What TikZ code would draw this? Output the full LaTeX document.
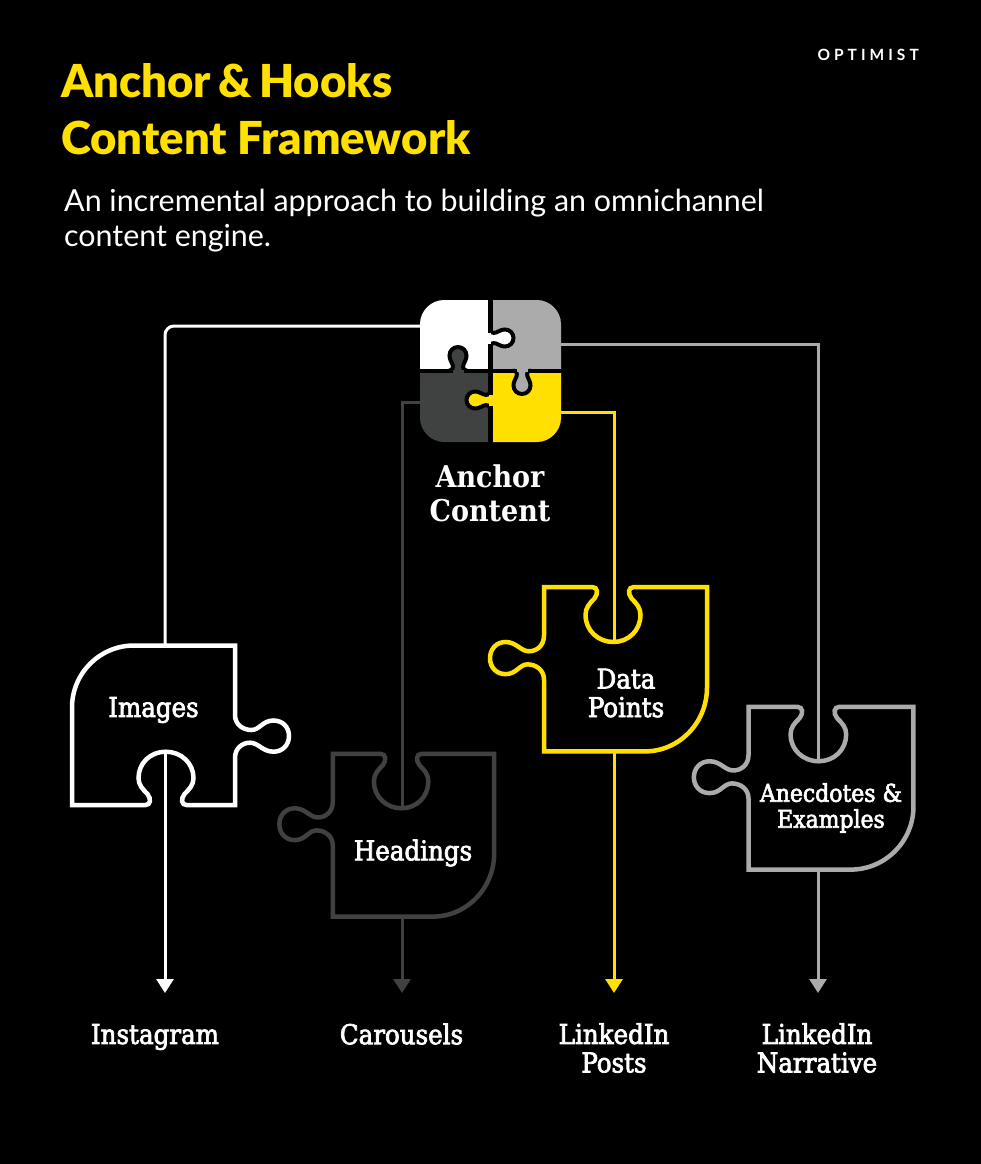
\documentclass[tikz,border=0pt]{standalone}
\usepackage{fontspec}
\setmainfont{Lato}
\newfontfamily\blk{Lato Black}
\newfontfamily\lab[FakeBold=2.6]{DejaVu Serif Condensed}
\newfontfamily\labb{DejaVu Serif Condensed}
\newfontfamily\logof[LetterSpace=26]{Lato}
\definecolor{ayel}{HTML}{FFE000}
\definecolor{agry}{HTML}{ABABAB}
\definecolor{adrk}{HTML}{3F4240}
\newcommand{\piecepath}{(-81.5,-17.5) .. controls (-81.5,-51.7) and (-53.7,-79.5) .. (-19.5,-79.5) -- (81.5,-79.5) -- (81.5,-10)
 .. controls (81.5,0) and (90,5) .. (98,5) .. controls (106,5) and (109,-4.5) .. (120,-4.5)
 .. controls (129,-4.5) and (135.5,2) .. (135.5,11) .. controls (135.5,20) and (129,26.7) .. (120,26.7)
 .. controls (109,26.7) and (105,17.7) .. (96.5,17.7) .. controls (89,17.7) and (81.5,23) .. (81.5,33)
 -- (81.5,80) -- (33,80) .. controls (28,80) and (27,74) .. (31,69) .. controls (36,64) and (40,60) .. (40,53)
 .. controls (40,38) and (27.5,26.7) .. (12.2,26.7) .. controls (-3,26.7) and (-15,38) .. (-15,53)
 .. controls (-15,60) and (-11,64) .. (-6,69) .. controls (-2,74) and (-3,80) .. (-8,80) -- (-81.5,80) -- cycle}
\newcommand{\tabpath}{(0,9) .. controls (0,5.5) and (3,4.5) .. (6,5.5) .. controls (9,6.5) and (11,8.5) .. (15,8.5)
 .. controls (19.7,8.5) and (23.5,4.7) .. (23.5,0) .. controls (23.5,-4.7) and (19.7,-8.5) .. (15,-8.5)
 .. controls (11,-8.5) and (9,-6.5) .. (6,-5.5) .. controls (3,-4.5) and (0,-5.5) .. (0,-9)}
\tikzset{
 x=1pt,y=-1pt,
 piece/.style={draw=#1,line width=4.5pt,line join=miter},
 conn/.style={draw=#1,line width=3pt,rounded corners=0pt},
 arrowed/.style={draw=#1,line width=3pt,-{Triangle[length=14pt,width=17pt,fill=#1]}},
 piecelab/.style={text=white,font=\lab\fontsize{27.3}{28.5}\selectfont,align=center,inner sep=0pt},
 anchorlab/.style={text=white,font=\labb\bfseries\fontsize{30}{33.5}\selectfont,align=center,inner sep=0pt},
 title/.style={text=ayel,font=\blk\fontsize{45.4}{56}\selectfont,anchor=base west,inner sep=0pt},
 sub/.style={text=white,font=\fontsize{30.4}{37}\selectfont,anchor=base west,inner sep=0pt},
}
\usetikzlibrary{arrows.meta}
\begin{document}
\begin{tikzpicture}
\useasboundingbox (0,0) rectangle (980,1164);
\fill[black] (-3,-3) rectangle (983,1167);
% text
\node[title] (t1) at (61,97) {Anchor\hspace{-3pt} \&\hspace{-3pt} Hooks};
\node[title] (t2) at (61,154) {Content Framework};
\node[sub] (s1) at (64,211) {An incremental approach to building an omnichannel};
\node[sub] (s2) at (64,246) {content engine.};
\node[text=white,font=\logof\bfseries\fontsize{15.5}{18}\selectfont,anchor=base east,inner sep=0pt] (logo) at (919,60) {OPTIMIST};
% connector coordinates
\coordinate (aW) at (421,326); \coordinate (aD) at (421,402); \coordinate (aE) at (560,344); \coordinate (aY) at (560,412);
\coordinate (pIt) at (165,645); \coordinate (pIb) at (165,752); \coordinate (eI) at (165,993);
\coordinate (pHt) at (402,806); \coordinate (pHb) at (402,917); \coordinate (eH) at (402,993);
\coordinate (pDt) at (614,640); \coordinate (pDb) at (614,752); \coordinate (eD) at (614,993);
\coordinate (pAt) at (818,760); \coordinate (pAb) at (818,870); \coordinate (eA) at (818,993);
% connectors
\draw[conn=white,rounded corners=9pt] (aW) -| (pIt);
\draw[conn=adrk] (aD) -| (pHt);
\draw[conn=ayel] (aY) -| (pDt);
\draw[conn=agry] (aE) -| (pAt);
\draw[arrowed=white] (pIb) -- (eI);
\draw[arrowed=adrk] (pHb) -- (eH);
\draw[arrowed=ayel] (pDb) -- (eD);
\draw[arrowed=agry] (pAb) -- (eA);
% pieces
\begin{scope}[shift={(153.5,725)}] \draw[piece=white] \piecepath; \end{scope}
\begin{scope}[shift={(413.5,835.5)},rotate=180,xscale=.99,yscale=1.02] \draw[piece=adrk] \piecepath; \end{scope}
\begin{scope}[shift={(625.5,669.5)},rotate=180,yscale=1.03] \draw[piece=ayel] \piecepath; \end{scope}
\begin{scope}[shift={(831,788.5)},rotate=180,xscale=1.012,yscale=1.02] \draw[piece=agry] \piecepath; \end{scope}
% anchor
\fill[white] (488,300) -- (488,370) -- (420,370) -- (420,324) .. controls (420,311) and (431,300) .. (444,300) -- cycle;
\fill[agry] (492,300) -- (492,370) -- (561,370) -- (561,324) .. controls (561,311) and (550,300) .. (537,300) -- cycle;
\fill[adrk] (488,442) -- (488,372) -- (420,372) -- (420,418) .. controls (420,431) and (431,442) .. (444,442) -- cycle;
\fill[ayel] (492,442) -- (492,372) -- (561,372) -- (561,418) .. controls (561,431) and (550,442) .. (537,442) -- cycle;
\fill[black] (488,300) rectangle (492.5,442);
\fill[black] (420,368.5) rectangle (561,372.5);
\begin{scope}[shift={(490,338)}]
 \draw[fill=white,draw=black,line width=4pt] \tabpath; \fill[white] (-3,-5.5) rectangle (1,5.5);
\end{scope}
\begin{scope}[shift={(458,370.5)},rotate=90]
 \draw[fill=adrk,draw=black,line width=4pt] \tabpath; \fill[adrk] (-3,-5.5) rectangle (1,5.5);
\end{scope}
\begin{scope}[shift={(522,370.5)},rotate=-90]
 \draw[fill=agry,draw=black,line width=4pt] \tabpath; \fill[agry] (-3,-5.5) rectangle (1,5.5);
\end{scope}
\begin{scope}[shift={(490,400)},rotate=180]
 \draw[fill=ayel,draw=black,line width=4pt] \tabpath; \fill[ayel] (-3,-5.5) rectangle (1,5.5);
\end{scope}
% labels
\node[anchorlab] (la) at (490,493.5) {Anchor\\Content};
\node[piecelab] (li) at (153.5,710) {Images};
\node[piecelab] (lh) at (413,853) {Headings};
\node[piecelab] (ld) at (626,693) {Data\\Points};
\node[piecelab,font=\lab\fontsize{24.4}{26}\selectfont] (ln) at (831,808) {Anecdotes \&\\Examples};
\node[piecelab] (o1) at (155,1037) {Instagram};
\node[piecelab] (o2) at (401.5,1034) {Carousels};
\node[piecelab] (o3) at (614,1048) {LinkedIn\\Posts};
\node[piecelab] (o4) at (817,1048) {LinkedIn\\Narrative};
\end{tikzpicture}
\end{document}
